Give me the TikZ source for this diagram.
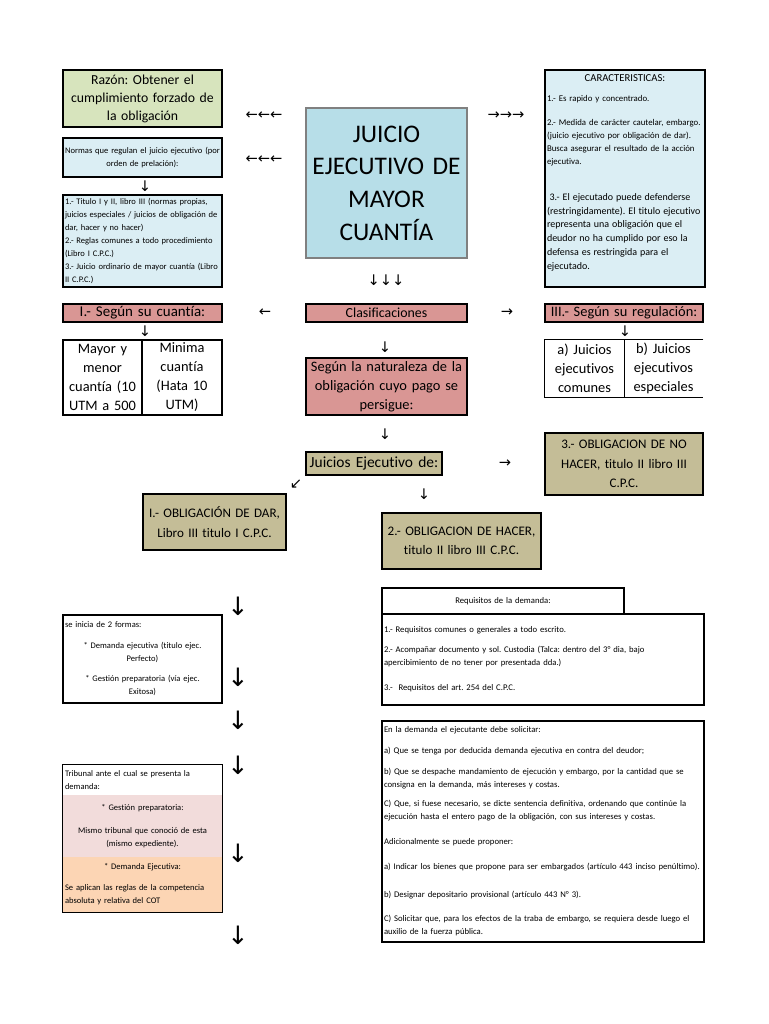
\documentclass[tikz,border=0pt]{standalone}
\usepackage{fontspec}
\setmainfont{Carlito}[Ligatures=NoCommon]
\newfontfamily\arrowfont{DejaVu Sans}
\newlength{\px}
\setlength{\px}{0.75pt}
\newcommand{\fsz}[2]{\fontsize{#1}{#2}\selectfont}
\definecolor{verdeoliva}{HTML}{D7E4BD}
\definecolor{celeste}{HTML}{DBEEF4}
\definecolor{celesteosc}{HTML}{B7DEE8}
\definecolor{rosado}{HTML}{D99694}
\definecolor{canela}{HTML}{C4BD97}
\definecolor{rosapal}{HTML}{F2DCDB}
\definecolor{durazno}{HTML}{FCD5B4}
\frenchspacing
\begin{document}
\begin{tikzpicture}[x=0.75pt,y=-0.75pt,
    caja/.style={draw,line width=0.9pt,inner xsep=1.5pt,inner ysep=0pt},
    celda/.style={inner xsep=1.5pt,inner ysep=0pt},
    izq/.style={align=left,execute at begin node={\rightskip=0pt plus 1fil minus 40pt\relax}},
    cen/.style={align=center,execute at begin node={\leftskip=0pt plus 1fil minus 20pt\relax\rightskip=0pt plus 1fil minus 20pt\relax}},
    chica/.style={font=\fsz{6.4}{9.75}},
    chicader/.style={font=\fsz{6.5}{9.75}},
    media/.style={font=\fsz{10.8}{14.25}},
    titulo/.style={font=\fsz{9.8}{14.5}},
    flecha/.style={font=\arrowfont\fsz{11}{11},inner sep=0pt},
    flechagrande/.style={font=\arrowfont\fsz{19}{19},inner sep=0pt}]
\fill[white] (0,0) rectangle (768,1024);
\useasboundingbox (0,0) rectangle (768,1024);

% fila superior
\node[caja,fill=verdeoliva,cen,font=\fsz{10.3}{13.5},minimum width=159\px,minimum height=57\px,text width=155\px] (razon) at (142.5,98.5) {Razón: Obtener el\\cumplimiento forzado de\\la obligación};
\node[caja,fill=celeste,cen,chica,minimum width=159\px,minimum height=39\px,text width=155\px] (normas) at (142.5,157.5) {Normas que regulan el juicio ejecutivo (por\\orden de prelación):};
\node[flecha] (flnormas) at (145,186) {↓};
\node[caja,fill=celeste,izq,chica,minimum width=159\px,minimum height=92\px,text width=155\px] (fuentes) at (142.5,241) {1.- Titulo I y II, libro III (normas propias,\\juicios especiales / juicios de obligación de\\dar, hacer y no hacer)\\2.- Reglas comunes a todo procedimiento\\(Libro I C.P.C.)\\3.- Juicio ordinario de mayor cuantía (Libro\\II C.P.C.)};

\node[flecha] (flrazon) at (264,116) {←←←};
\node[flecha] (flfuentes) at (264,160) {←←←};
\node[draw=black!50,line width=0.9pt,inner sep=0pt,fill=celesteosc,cen,font=\fsz{19}{24.5},minimum width=161\px,minimum height=150\px,text width=157\px] (juicio) at (386.5,183) {JUICIO\\EJECUTIVO DE\\MAYOR\\CUANTÍA};
\node[flecha] (fljuicio) at (386,280) {↓↓↓};
\node[flecha] (flcaract) at (506,116) {→→→};

\node[caja,fill=celeste,izq,font=\fsz{6.6}{9.75},minimum width=160\px,minimum height=217\px,text width=156\px] (caract) at (625,178.5) {\makebox[\linewidth]{\fsz{8}{9.75}CARACTERISTICAS:}\\[5.25pt]
1.- Es rapido y concentrado.\\[8.25pt]
2.- Medida de carácter cautelar, embargo.\\
(juicio ejecutivo por obligación de dar).\\
Busca asegurar el resultado de la acción\\
ejecutiva.\\[16.5pt]
\fsz{7.5}{10.35}\hspace*{2pt}3.- El ejecutado puede defenderse\\
(restringidamente). El titulo ejecutivo\\
representa una obligación que el\\
deudor no ha cumplido por eso la\\
defensa es restringida para el\\
ejecutado.\\\mbox{}};

% clasificaciones
\node[caja,fill=rosado,cen,font=\fsz{11.2}{14.25},minimum width=159\px,minimum height=18\px,text width=155\px] (cuantia) at (142.5,313) {I.- Según su cuantía:};
\node[flecha] (flcuantia) at (265,313) {←};
\node[caja,fill=rosado,cen,font=\fsz{10.4}{14.25},minimum width=161\px,minimum height=18\px,text width=157\px] (clasif) at (386.5,313) {Clasificaciones};
\node[flecha] (flregul) at (507,313) {→};
\node[caja,fill=rosado,cen,media,minimum width=158\px,minimum height=18\px,text width=154\px] (regul) at (624,313) {III.- Según su regulación:};

\node[flecha] (flmayor) at (145,331) {↓};
\node[caja,cen,media,minimum width=79\px,minimum height=75\px,text width=75\px] (mayor) at (102.5,377.5) {Mayor y\\menor\\cuantía (10\\UTM a 500};
\node[caja,cen,media,minimum width=80\px,minimum height=75\px,text width=76\px] (minima) at (182,377.5) {Minima\\cuantía\\(Hata 10\\UTM)};

\node[flecha] (flnaturaleza) at (385,347) {↓};
\node[caja,fill=rosado,cen,media,minimum width=161\px,minimum height=57\px,text width=157\px] (naturaleza) at (386.5,386.5) {Según la naturaleza de la\\obligación cuyo pago se\\persigue:};

\node[flecha] (flcomunes) at (625,331) {↓};
\node[celda,cen,media,minimum width=79\px,minimum height=57\px,text width=75\px] (comunes) at (584.5,368.5) {a) Juicios\\ejecutivos\\comunes};
\node[celda,cen,media,minimum width=79\px,minimum height=57\px,text width=75\px] (especiales) at (663.5,368.5) {b) Juicios\\ejecutivos\\especiales};
\draw[line width=0.9pt] (especiales.north east) -- (comunes.north west) -- (comunes.south west) -- (especiales.south east);
\draw[line width=0.9pt] (comunes.north east) -- (comunes.south east);

% juicios ejecutivos
\node[flecha] (fltipos) at (385,434) {↓};
\node[caja,fill=canela,cen,font=\fsz{11.6}{14},minimum width=136\px,minimum height=23\px,text width=132\px] (tipos) at (374,463.5) {Juicios Ejecutivo de:};
\node[flecha] (flnohacer) at (505,464) {→};
\node[caja,fill=canela,cen,titulo,minimum width=158\px,minimum height=62\px,text width=154\px] (nohacer) at (624,464) {3.- OBLIGACION DE NO\\HACER, titulo II libro III\\C.P.C.};
\node[flecha] (fldar) at (296,484) {↙};
\node[flecha] (flhacer) at (424,494) {↓};
\node[caja,fill=canela,cen,titulo,minimum width=143\px,minimum height=56\px,text width=139\px] (dar) at (214.5,522) {I.- OBLIGACIÓN DE DAR,\\Libro III titulo I C.P.C.};
\node[caja,fill=canela,cen,titulo,minimum width=159\px,minimum height=56\px,text width=155\px] (hacer) at (461.5,541) {2.- OBLIGACION DE HACER,\\titulo II libro III C.P.C.};

% columna de flechas
\node[flechagrande] (paso1) at (238,606) {↓};
\node[flechagrande] (paso2) at (238,677) {↓};
\node[flechagrande] (paso3) at (238,720) {↓};
\node[flechagrande] (paso4) at (238,765) {↓};
\node[flechagrande] (paso5) at (238,853) {↓};
\node[flechagrande] (paso6) at (238,935) {↓};

% procedimiento
\node[caja,cen,chica,minimum width=159\px,minimum height=88\px,text width=155\px] (inicia) at (142.5,659) {\makebox[\linewidth][l]{se inicia de 2 formas:}\\[6pt]
* Demanda ejecutiva (titulo ejec.\\
Perfecto)\\[5.25pt]
* Gestión preparatoria (vía ejec.\\
Exitosa)};

\node[celda,fill=white,izq,chica,minimum width=159\px,minimum height=30\px,text width=155\px] (tribunal) at (142.5,780) {Tribunal ante el cual se presenta la\\demanda:};
\node[celda,fill=rosapal,cen,chica,minimum width=159\px,minimum height=62\px,text width=155\px] (gestion) at (142.5,826) {* Gestión preparatoria:\\[7.5pt]
Mismo tribunal que conoció de esta\\
(mismo expediente).};
\node[celda,fill=durazno,cen,chica,minimum width=159\px,minimum height=55\px,text width=155\px] (demanda) at (142.5,884.5) {* Demanda Ejecutiva:\\[6pt]
\makebox[\linewidth][l]{Se aplican las reglas de la competencia}\\
\makebox[\linewidth][l]{absoluta y relativa del COT}};
\draw[line width=0.9pt] (tribunal.north west) rectangle (demanda.south east);

\node[caja,cen,chicader,minimum width=242\px,minimum height=26\px,text width=238\px] (reqtitulo) at (503,601) {Requisitos de la demanda:};
\node[caja,izq,chicader,minimum width=322\px,minimum height=91\px,text width=318\px] (requisitos) at (543,659.5) {1.- Requisitos comunes o generales a todo escrito.\\[5.25pt]
2.- Acompañar documento y sol. Custodia (Talca: dentro del 3° dia, bajo\\
apercibimiento de no tener por presentada dda.)\\[9pt]
3.-\ \ Requisitos del art. 254 del C.P.C.};

\node[caja,izq,chicader,minimum width=322\px,minimum height=221\px,text width=318\px] (solicitud) at (543,831.5) {En la demanda el ejecutante debe solicitar:\\[6pt]
a) Que se tenga por deducida demanda ejecutiva en contra del deudor;\\[6pt]
b) Que se despache mandamiento de ejecución y embargo, por la cantidad que se\\
consigna en la demanda, más intereses y costas.\\[4.5pt]
C) Que, si fuese necesario, se dicte sentencia definitiva, ordenando que continúe la\\
ejecución hasta el entero pago de la obligación, con sus intereses y costas.\\[9pt]
Adicionalmente se puede proponer:\\[9pt]
a) Indicar los bienes que propone para ser embargados (artículo 443 inciso penúltimo).\\[11.25pt]
b) Designar depositario provisional (artículo 443 N° 3).\\[8.25pt]
C) Solicitar que, para los efectos de la traba de embargo, se requiera desde luego el\\
auxilio de la fuerza pública.};
\end{tikzpicture}
\end{document}
